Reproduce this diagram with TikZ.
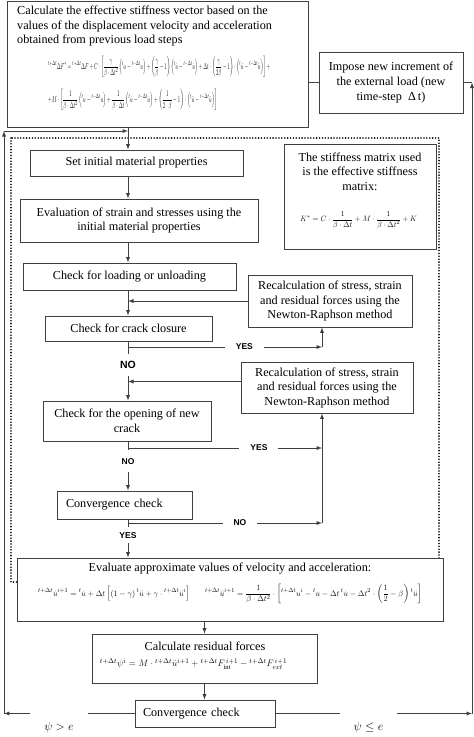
\documentclass[tikz,border=0pt]{standalone}
\usepackage{fontspec}
\setmainfont{Liberation Serif}
\newfontfamily\tagfont{Liberation Sans}
\usepackage{amsmath}
\usepackage{graphicx}
\usetikzlibrary{calc}

\begin{document}
\begin{tikzpicture}[x=1pt, y=-1pt, font=\fontsize{12.2}{14.5}\selectfont,
	box/.style={draw=black!75, line width=0.9pt, fill=white, align=center, inner sep=0pt},
	link/.style={draw=black!75, line width=0.9pt},
	arr/.style={link, -latex},
	tag/.style={fill=white, font=\fontsize{8.5}{10}\selectfont\tagfont\bfseries, inner xsep=11pt, inner ysep=6pt},
	psi/.style={fill=white, anchor=base, inner sep=0pt, text height=19pt, font=\fontsize{12}{14}\selectfont}]
	\useasboundingbox (0,0) rectangle (474,737);
	%Spine of the flow chart
	\coordinate (sp) at (128,0);
	%Dotted frame of the inner loop
	\draw[line width=1.8pt, line cap=round, dash pattern=on 0pt off 2.9pt] (11,138) rectangle (439,582);
	%Effective stiffness vector
	\node[box, anchor=north west, minimum width=301pt, minimum height=126pt] (calc) at (7,1) {};
	\node[anchor=north west, align=left, inner sep=0pt] (calctxt) at (17,6) {Calculate the effective stiffness vector based on the\\values of the displacement velocity and acceleration\\obtained from previous load steps};
	\node[anchor=west, inner sep=0pt] (calceqa) at (48,67) {\resizebox*{222pt}{21pt}{$\displaystyle {}^{t+\Delta t}\Delta F^{*}={}^{t+\Delta t}\Delta F+C\cdot\left[\frac{\gamma}{\beta\cdot\Delta t^{2}}\left({}^{t}u-{}^{t-\Delta t}u\right)+\left(\frac{\gamma}{\beta}-1\right)\left({}^{t}\dot{u}-{}^{t-\Delta t}\dot{u}\right)+\Delta t\cdot\left(\frac{\gamma}{2\beta}-1\right)\cdot\left({}^{t}\ddot{u}-{}^{t-\Delta t}\ddot{u}\right)\right]+$}};
	\node[anchor=west, inner sep=0pt] (calceqb) at (48,100) {\resizebox*{169pt}{21pt}{$\displaystyle +M\cdot\left[\frac{1}{\beta\cdot\Delta t^{2}}\left({}^{t}u-{}^{t-\Delta t}u\right)+\frac{1}{\beta\cdot\Delta t}\left({}^{t}\dot{u}-{}^{t-\Delta t}\dot{u}\right)+\left(\frac{1}{2\cdot\beta}-1\right)\cdot\left({}^{t}\ddot{u}-{}^{t-\Delta t}\ddot{u}\right)\right]$}};
	%New load increment
	\node[box, minimum width=144pt, minimum height=61pt] (impose) at (391,82.5) {Impose new increment of\\the external load (new\\time-step \ Δ\,t)};
	%Effective stiffness matrix
	\node[box, anchor=north west, minimum width=152pt, minimum height=105pt] (stiff) at (284,144) {};
	\node[align=center, inner sep=0pt] (stifftxt) at (360,171.5) {The stiffness matrix used\\is the effective stiffness\\matrix:};
	\node[inner sep=0pt] (stiffeq) at (358.5,220) {\resizebox{117pt}{!}{$\displaystyle K^{*}=C\cdot\frac{1}{\beta\cdot\Delta t}+M\cdot\frac{1}{\beta\cdot\Delta t^{2}}+K$}};
	%Inner loop boxes
	\node[box, minimum width=213pt, minimum height=26pt] (init) at (136.5,163) {Set initial material properties};
	\node[box, minimum width=238pt, minimum height=43pt] (strain) at (139,220.5) {Evaluation of strain and stresses using the\\initial material properties};
	\node[box, minimum width=213pt, minimum height=27pt] (load) at (129.5,276.5) {Check for loading or unloading};
	\node[box, minimum width=167pt, minimum height=25pt] (closure) at (128.5,328.5) {Check for crack closure};
	\node[box, minimum width=164pt, minimum height=52pt] (newtona) at (330,301) {Recalculation of stress, strain\\and residual forces using the\\Newton-Raphson method};
	\node[box, minimum width=172pt, minimum height=51pt] (newtonb) at (327,387.5) {Recalculation of stress, strain\\and residual forces using the\\Newton-Raphson method};
	\node[box, minimum width=168pt, minimum height=40pt] (opening) at (127,421) {Check for the opening of new\\crack};
	\node[box, minimum width=135pt, minimum height=28pt, text width=117pt, align=left, inner xsep=9pt] (convin) at (124.5,505) {Convergence check};
	%Velocity and acceleration
	\node[box, minimum width=426pt, minimum height=63pt] (approx) at (230,589.5) {};
	\node[inner sep=0pt] (approxtxt) at (230,569) {Evaluate approximate values of velocity and acceleration:};
	\node[inner sep=0pt] (approxeqa) at (114,594) {\resizebox{152pt}{!}{$\displaystyle {}^{t+\Delta t}\dot{u}^{i+1}={}^{t}\dot{u}+\Delta t\left[\left(1-\gamma\right){}^{t}\ddot{u}+\gamma\cdot{}^{t+\Delta t}\ddot{u}^{i}\right]$}};
	\node[inner sep=0pt] (approxeqb) at (313.5,594) {\resizebox{217pt}{!}{$\displaystyle {}^{t+\Delta t}\ddot{u}^{i+1}=\frac{1}{\beta\cdot\Delta t^{2}}\cdot\left[{}^{t+\Delta t}u^{i}-{}^{t}u-\Delta t\,{}^{t}\dot{u}-\Delta t^{2}\cdot\left(\frac{1}{2}-\beta\right){}^{t}\ddot{u}\right]$}};
	%Residual forces
	\node[box, minimum width=225pt, minimum height=49pt] (resid) at (204.5,658.5) {};
	\node[inner sep=0pt] (residtxt) at (205,646) {Calculate residual forces};
	\node[inner sep=0pt] (resideq) at (193.5,664) {\resizebox{187pt}{!}{$\displaystyle {}^{t+\Delta t}\psi^{i}=M\cdot{}^{t+\Delta t}\ddot{u}^{i+1}+{}^{t+\Delta t}F_{\mathrm{int}}^{\,i+1}-{}^{t+\Delta t}F_{ext}^{\,i+1}$}};
	%Outer convergence check
	\node[box, minimum width=140pt, minimum height=27pt, text width=124pt, align=left, inner xsep=8pt] (convout) at (205,713.5) {Convergence check};
	% Connectors of the inner loop
	\draw[link] (impose.west -| calc.east) -- (impose.west);
	\draw[arr] (calc.south -| sp) -- (init.north -| sp);
	\draw[arr] (init.south -| sp) -- (strain.north -| sp);
	\draw[arr] (strain.south -| sp) -- (load.north -| sp);
	\draw[arr] (load.south -| sp) -- (closure.north -| sp);
	\draw[arr] (newtona.west) -- (newtona.west -| sp);
	\draw[arr] (closure.south -| sp) -- node[tag, pos=0.4, font=\fontsize{10.5}{12}\selectfont\tagfont\bfseries, inner ysep=7pt] {NO} (opening.north -| sp);
	\coordinate (ya) at (128,347);
	\coordinate (yb) at (322,347);
	\draw[arr] (ya) -- node[tag, pos=0.6] {YES} (yb);
	\draw[arr] (yb) -- (yb |- newtona.south);
	\draw[arr] ([yshift=6pt]newtonb.west) -- ([yshift=6pt]newtonb.west -| sp);
	\draw[arr] (opening.south -| sp) -- node[tag, pos=0.4, inner ysep=8pt] {NO} (convin.north -| sp);
	\coordinate (na) at (128,448);
	\coordinate (nb) at (322,448);
	\draw[arr] (na) -- node[tag, pos=0.675] {YES} (nb);
	\coordinate (ma) at (128,523);
	\coordinate (mb) at (322,523);
	\draw[arr] (ma) -- node[tag, pos=0.577] {NO} (mb);
	\draw[arr] (mb) -- (mb |- newtonb.south);
	\draw[arr] (convin.south -| sp) -- node[tag, pos=0.42, inner ysep=5pt] {YES} (approx.north -| sp);
	\draw[arr] (approx.south -| resid.north) -- (resid.north);
	\draw[arr] (resid.south) -- (resid.south |- convout.north);
	% Outer loop
	\coordinate (bl) at (4,713.5);
	\coordinate (tl) at (4,131);
	\coordinate (br) at (472,713.5);
	\coordinate (tr) at (472,82.5);
	\draw[arr] (convout.west) -- (bl);
	\draw[arr] (bl) -- (tl);
	\draw[arr] (tl) -- (tl -| sp);
	\draw[arr] (convout.east) -- (br);
	\draw[arr] (br) -- (tr);
	\draw[link] (impose.east) -- (tr);
	% Labels
	\node[psi, minimum width=58pt] (worse) at (59,730) {$\psi > e$};
	\node[psi, minimum width=57pt] (better) at (368.5,730) {$\psi \le e$};
\end{tikzpicture}
\end{document}
